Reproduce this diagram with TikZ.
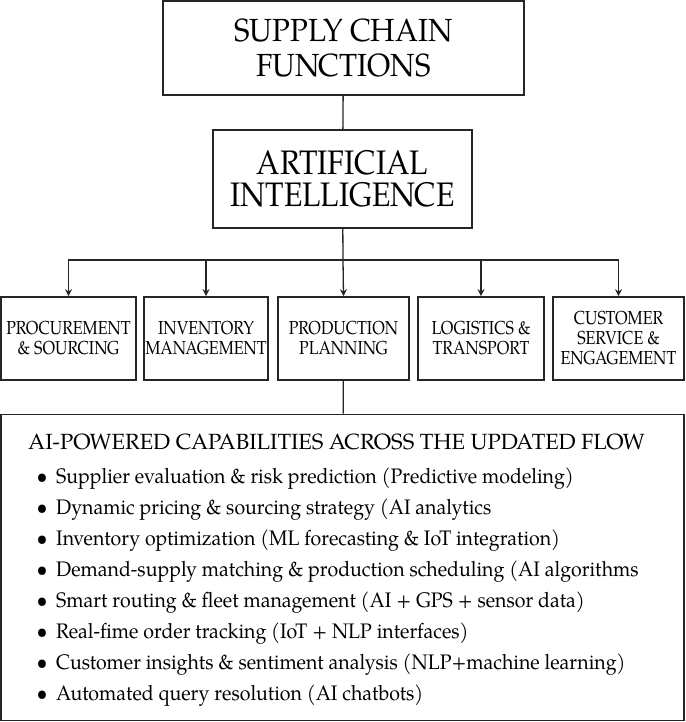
\documentclass[tikz,border=0pt]{standalone}
\usepackage{fontspec}
\setmainfont{TeX Gyre Pagella}
\usetikzlibrary{arrows.meta}
\newcommand\myfs[3]{\fontsize{#1}{#2}\selectfont\addfontfeature{FakeStretch=#3}}
\begin{document}
\begin{tikzpicture}[x=1pt,y=-1pt,
  box/.style={draw=black!85,line width=1.6pt,rectangle,inner sep=0pt,align=center},
  conn/.style={draw=black!85,line width=1.3pt},
  arr/.style={conn,-{Stealth[length=7pt,width=7pt]}},
  rowbox/.style={box,minimum height=83pt,font=\myfs{18.8}{20}{0.85}},
  bl/.style={anchor=base west,inner sep=0pt,font=\myfs{21}{22}{0.93}}]
\useasboundingbox (0,0) rectangle (685,722);
\node[box,minimum width=361pt,minimum height=94pt,font=\myfs{32}{35}{0.92}] (scf) at (343.5,48) {SUPPLY CHAIN\\FUNCTIONS};
\node[box,minimum width=259pt,minimum height=98pt,font=\myfs{34}{32.5}{0.885}] (ai) at (342.5,179) {ARTIFICIAL\\INTELLIGENCE};
\node[rowbox,minimum width=135pt] (b1) at (68.5,338.5) {PROCUREMENT\\\& SOURCING};
\node[rowbox,minimum width=124pt] (b2) at (206,338.5) {INVENTORY\\MANAGEMENT};
\node[rowbox,minimum width=131pt] (b3) at (343.5,338.5) {PRODUCTION\\PLANNING};
\node[rowbox,minimum width=126pt] (b4) at (481,338.5) {LOGISTICS \&\\TRANSPORT};
\node[rowbox,minimum width=131pt] (b5) at (618.5,338.5) {CUSTOMER\\SERVICE \&\\ENGAGEMENT};
\node[box,minimum width=683pt,minimum height=306pt] (cap) at (342.5,567.5) {};
\coordinate (bus) at (343,260);
\draw[conn] (scf) -- (ai);
\draw[conn] (ai) -- (bus);
\draw[arr] (bus) -| (b1.north);
\draw[arr] (bus) -| (b2.north);
\draw[arr] (bus) -- (b3.north);
\draw[arr] (bus) -| (b4.north);
\draw[arr] (bus) -| (b5.north);
\draw[conn] (b3) -- (cap);
\node[bl,font=\myfs{22}{22}{1.0}] (h) at (28,449) {AI-POWERED CAPABILITIES ACROSS THE UPDATED FLOW};
\foreach \t [count=\i from 0] in {
  {Supplier evaluation \& risk prediction (Predictive modeling)},
  {Dynamic pricing \& sourcing strategy (AI analytics},
  {Inventory optimization (ML forecasting \& IoT integration)},
  {Demand-supply matching \& production scheduling (AI algorithms},
  {Smart routing \& fleet management (AI + GPS + sensor data)},
  {Real-fime order tracking (IoT + NLP interfaces)},
  {Customer insights \& sentiment analysis (NLP+machine learning)},
  {Automated query resolution (AI chatbots)}} {
  \node[bl] (t\i) at (56,483+31*\i) {\t};
  \node[bl,anchor=base] (d\i) at (42,483+31*\i) {\textbullet};
}
\end{tikzpicture}
\end{document}
